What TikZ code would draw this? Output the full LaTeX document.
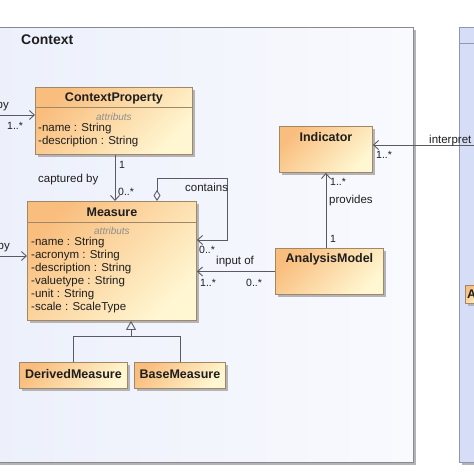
\documentclass[tikz,border=0pt]{standalone}
\usepackage{fontspec}
\setmainfont{Liberation Sans}
\usetikzlibrary{arrows.meta,calc,shadows}

\definecolor{pkgfillA}{HTML}{ECF0FB}
\definecolor{pkgfillB}{HTML}{F9FAFE}
\definecolor{pkgline}{HTML}{8A8A8E}
\definecolor{shadowc}{HTML}{B4B4B8}
\definecolor{clsA}{HTML}{F9BE7E}
\definecolor{clsB}{HTML}{FFF7D2}
\definecolor{clsline}{HTML}{A08866}
\definecolor{rpkg}{HTML}{D6DEF7}
\definecolor{rpkgline}{HTML}{8E96B4}
\definecolor{conn}{HTML}{5A5A64}
\definecolor{txt}{HTML}{1E1E1E}
\definecolor{attrgray}{HTML}{8E8E8E}

\tikzset{
  cls/.style={draw=clsline, line width=0.9pt, left color=clsA, right color=clsB,
    shading angle=45, anchor=north west, inner sep=0pt,
    drop shadow={shadow xshift=3pt, shadow yshift=-3pt, fill=shadowc, opacity=1}},
  ctitle/.style={font=\bfseries\fontsize{12.5}{14}\selectfont, text=txt, inner sep=0pt},
  attrhead/.style={font=\itshape\fontsize{10}{12}\selectfont, text=attrgray, inner sep=0pt},
  attr/.style={font=\fontsize{11.5}{13}\selectfont, text=txt, inner sep=0pt, anchor=west},
  lbl/.style={font=\fontsize{11.5}{13}\selectfont, text=txt, inner sep=0pt},
  mult/.style={font=\fontsize{10.5}{12}\selectfont, text=txt, inner sep=0pt},
  assoc/.style={draw=conn, line width=0.9pt},
  nav/.style={assoc, -{Straight Barb[length=5pt,width=9pt]}},
  sepline/.style={draw=clsline, line width=0.8pt},
}

\begin{document}
\begin{tikzpicture}[x=1pt,y=-1pt]
\useasboundingbox (0,0) rectangle (474,474);
\clip (0,0) rectangle (474,474);
\fill[white] (0,0) rectangle (474,474);

% Context package
\fill[shadowc] (-10,30) rectangle (416,465);
\node[draw=pkgline, line width=0.9pt, left color=pkgfillA, right color=pkgfillB,
  anchor=north west, inner sep=0pt, minimum width=423pt, minimum height=435pt]
  (ctx) at (-10,27) {};
\node[font=\bfseries\fontsize{14}{16}\selectfont, text=txt, anchor=west, inner sep=0pt]
  (ctxT) at (21,40) {Context};

% right package
\fill[shadowc] (462,30) rectangle (480,465);
\node[draw=rpkgline, line width=0.9pt, fill=rpkg, anchor=north west, inner sep=0pt,
  minimum width=30pt, minimum height=435pt] (rp) at (459,27) {};
\draw[draw=rpkgline, line width=0.9pt] (459,43) -- (480,43);
\node[cls, minimum width=20pt, minimum height=18pt] (rpA) at (465,285) {};
\node[ctitle, anchor=west] (rpAT) at (467,294) {A};

% ContextProperty
\node[cls, minimum width=157pt, minimum height=67pt] (cp) at (35,87) {};
\draw[sepline] ($(cp.north west)+(0,20)$) -- ($(cp.north east)+(0,20)$);
\node[ctitle] (cpT) at ($(cp.north)+(0,11.5)$) {ContextProperty};
\node[attrhead] (cpH) at ($(cp.north)+(0,29.5)$) {attributs};
\node[attr] (cpA1) at ($(cp.north west)+(3,42)$) {-name : String};
\node[attr] (cpA2) at ($(cp.north west)+(3,55)$) {-description : String};

% Measure
\node[cls, minimum width=169pt, minimum height=119pt] (ms) at (27,201) {};
\draw[sepline] ($(ms.north west)+(0,21)$) -- ($(ms.north east)+(0,21)$);
\node[ctitle] (msT) at ($(ms.north)+(0,11.5)$) {Measure};
\node[attrhead] (msH) at ($(ms.north)+(0,30)$) {attributs};
\node[attr] (msA1) at ($(ms.north west)+(4,42)$) {-name : String};
\node[attr] (msA2) at ($(ms.north west)+(4,55)$) {-acronym : String};
\node[attr] (msA3) at ($(ms.north west)+(4,68)$) {-description : String};
\node[attr] (msA4) at ($(ms.north west)+(4,81)$) {-valuetype : String};
\node[attr] (msA5) at ($(ms.north west)+(4,94)$) {-unit : String};
\node[attr] (msA6) at ($(ms.north west)+(4,107)$) {-scale : ScaleType};

% DerivedMeasure, BaseMeasure
\node[cls, minimum width=108pt, minimum height=26pt] (dm) at (19,362) {};
\node[ctitle] (dmT) at ($(dm.center)+(0,-1.5)$) {DerivedMeasure};
\node[cls, minimum width=91pt, minimum height=26pt] (bm) at (134,362) {};
\node[ctitle] (bmT) at ($(bm.center)+(0,-1.5)$) {BaseMeasure};

% Indicator
\node[cls, minimum width=93pt, minimum height=46pt] (ind) at (279,126) {};
\node[ctitle] (indT) at ($(ind.north)+(0,11)$) {Indicator};

% AnalysisModel
\node[cls, minimum width=108pt, minimum height=46pt] (am) at (275,248) {};
\node[ctitle] (amT) at ($(am.north)+(0,11)$) {AnalysisModel};

% helper coordinates
\coordinate (inA) at (-10,115);
\coordinate (inB) at (-10,256);
\coordinate (capx) at (115,0);
\coordinate (conx) at (157,0);
\coordinate (conc) at (227,178);
\coordinate (conr) at (0,240);
\coordinate (genx) at (131,0);
\coordinate (genj) at (131,336);
\coordinate (intr) at (480,145);

% connectors
\draw[nav] (inA) -- (inA -| cp.west);
\draw[nav] (inB) -- (inB -| ms.west);
\draw[nav] (capx |- cp.south) -- (capx |- ms.north);
\draw[assoc, {Diamond[open,length=11pt,width=7pt]}-{Straight Barb[length=5pt,width=9pt]}]
  (conx |- ms.north) |- (conc) |- (conr -| ms.east);
\draw[nav] (am.west) -- (am.west -| ms.east);
\draw[nav] (ind.south |- am.north) -- (ind.south);
\draw[nav] (intr) -- (intr -| ind.east);
\draw[assoc] (dm.north) |- (genj);
\draw[assoc] (bm.north) |- (genj);
\draw[assoc, -{Triangle[open,length=9pt,width=10pt]}] (genj) -- (genx |- ms.south);

% labels
\node[lbl, anchor=east] (byA) at (9,106) {by};
\node[mult, anchor=west] (mA) at (7,126) {1..*};
\node[lbl, anchor=east] (byB) at (10,247) {by};
\node[mult, anchor=west] (cp1) at (119,165) {1};
\node[lbl, anchor=west] (capL) at (38,180) {captured by};
\node[mult, anchor=west] (cp0) at (118,192) {0..*};
\node[lbl, anchor=west] (conL) at (185,187) {contains};
\node[mult, anchor=west] (con0) at (199,250) {0..*};
\node[lbl, anchor=west] (inL) at (216,262) {input of};
\node[mult, anchor=west] (in1) at (200,283) {1..*};
\node[mult, anchor=west] (in0) at (246,283) {0..*};
\node[mult, anchor=west] (pr1) at (330,239) {1};
\node[lbl, anchor=west] (prL) at (329,201) {provides};
\node[mult, anchor=west] (prM) at (330,182) {1..*};
\node[mult, anchor=west] (itM) at (376,155) {1..*};
\node[lbl, anchor=west] (itL) at (429,141) {interpret};
\end{tikzpicture}
\end{document}
